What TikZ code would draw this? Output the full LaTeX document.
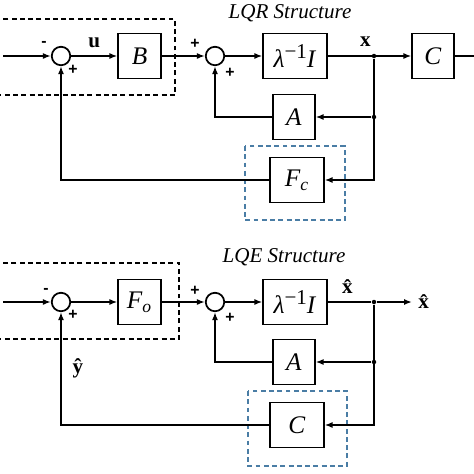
\documentclass[tikz,border=0pt]{standalone}
\usepackage{fontspec}
\setmainfont{Liberation Serif}
\setsansfont{Liberation Sans}
\usetikzlibrary{arrows.meta}
\definecolor{dashblue}{RGB}{74,125,165}
\newcommand{\laminv}{\textit{λ}\raisebox{0.85ex}{\large −1}\textit{I}}

\begin{document}
\begin{tikzpicture}[x=0.02cm, y=-0.02cm,
    blk/.style={draw, line width=0.7pt, minimum width=#1, minimum height=0.9cm, inner sep=0pt, font=\Large},
    sum/.style={draw, circle, line width=1pt, minimum size=0.37cm, inner sep=0pt},
    sig/.style={line width=1.2pt, -{Latex[length=4.5pt, width=3.4pt]}},
    wire/.style={line width=1.2pt},
    sgn/.style={font=\sffamily\bfseries\small, inner sep=0pt},
    lbl/.style={font=\bfseries\large, inner sep=0pt},
    jdot/.style={circle, fill, inner sep=0pt, minimum size=0.09cm},
    ttl/.style={font=\itshape\large},
    blkdash/.style={line width=0.7pt, dash pattern=on 2.8pt off 1.9pt},
    bluedash/.style={blkdash, dashblue}]
  \useasboundingbox (0,0) rectangle (474,474);

  % LQR structure
  \draw[blkdash] (-10,19) rectangle (175,95);
  \draw[bluedash] (245,146) rectangle (345,220);
  \node[ttl] (tqr) at (290,13) {LQR Structure};

  % boxes
  \node[sum] (qs1) at (61,56) {};
  \node[blk=0.86cm] (qB) at (139.5,56) {\textit{B}};
  \node[sum] (qs2) at (215,56) {};
  \node[blk=1.28cm] (qL) at (295,56) {\laminv};
  \node[blk=0.84cm] (qC) at (433,56) {\textit{C}};
  \node[blk=0.84cm] (qA) at (294,117) {\textit{A}};
  \node[blk=1.08cm] (qF) at (297,180) {\textit{F}\textsubscript{\textit{c}}};
  \node[jdot] (qj1) at (374,56) {};
  \node[jdot] (qj2) at (374,117) {};
  \coordinate (qin) at (3,56);
  \coordinate (qout) at (480,56);

  % lines
  \draw[sig] (qin) -- (qs1);
  \draw[sig] (qs1) -- node[lbl, above=4pt] (qu) {u} (qB);
  \draw[sig] (qB) -- (qs2);
  \draw[sig] (qs2) -- (qL);
  \draw[sig] (qL) -- node[lbl, above=5pt, pos=0.45] (qx) {x} (qC);
  \draw[wire] (qC) -- (qout);
  \draw[sig] (qj2) -- (qA);
  \draw[sig] (qA) -| (qs2);
  \draw[sig] (qj1) |- (qF);
  \draw[sig] (qF) -| (qs1);
  \node[sgn] (qm1) at (44,44) {-};
  \node[sgn] (qp1) at (73,70) {+};
  \node[sgn] (qp2) at (195,44) {+};
  \node[sgn] (qp3) at (230,73) {+};

  % LQE structure
  \draw[blkdash] (-10,263) rectangle (179,339);
  \draw[bluedash] (248,391) rectangle (347,466);
  \node[ttl] (tqe) at (284,257) {LQE Structure};

  % boxes
  \node[sum] (es1) at (61,302) {};
  \node[blk=0.86cm] (eF) at (139.5,302) {\textit{F}\textsubscript{\textit{o}}};
  \node[sum] (es2) at (215,302) {};
  \node[blk=1.28cm] (eL) at (295,302) {\laminv};
  \node[blk=0.84cm] (eA) at (294,362) {\textit{A}};
  \node[blk=1.08cm] (eC) at (297,425) {\textit{C}};
  \node[jdot] (ej1) at (374,302) {};
  \node[jdot] (ej2) at (374,362) {};
  \coordinate (ein) at (3,302);
  \coordinate (eout) at (412,302);

  % lines
  \draw[sig] (ein) -- (es1);
  \draw[sig] (es1) -- (eF);
  \draw[sig] (eF) -- (es2);
  \draw[sig] (es2) -- (eL);
  \draw[wire] (eL) -- node[lbl, above=4pt, pos=0.45] (ex) {\^x} (ej1);
  \draw[sig] (ej1) -- (eout) node[lbl, right=3pt] (exo) {\^x};
  \draw[sig] (ej2) -- (eA);
  \draw[sig] (eA) -| (es2);
  \draw[sig] (ej1) |- (eC);
  \draw[sig] (eC) -| node[lbl, right=6pt, pos=0.75] (ey) {\^y} (es1);
  \node[sgn] (em1) at (46,291) {-};
  \node[sgn] (ep1) at (73,315) {+};
  \node[sgn] (ep2) at (195,291) {+};
  \node[sgn] (ep3) at (230,318) {+};
\end{tikzpicture}
\end{document}
